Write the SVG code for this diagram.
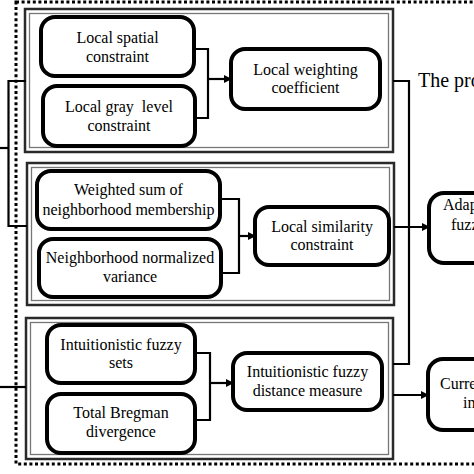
<svg xmlns="http://www.w3.org/2000/svg" width="474" height="474" viewBox="0 0 474 474">
<defs>
<style>
.frame{fill:none;stroke:#000;stroke-width:3;stroke-dasharray:3 2.6}
.pout{fill:none;stroke:#2a2a2a;stroke-width:2.5}
.pin{fill:none;stroke:#777;stroke-width:1.3}
.node{fill:#fff;stroke:#000;stroke-width:4}
.t{font-family:"Liberation Serif","Times New Roman",serif;font-size:16px;fill:#000;text-anchor:middle}
.ts{font-family:"Liberation Serif","Times New Roman",serif;font-size:16px;fill:#000}
.line{fill:none;stroke:#000;stroke-width:2.2}
.arr{fill:none;stroke:#000;stroke-width:2.2;marker-end:url(#ah)}
</style>
<marker id="ah" markerWidth="8" markerHeight="8" refX="7" refY="4" orient="auto" markerUnits="userSpaceOnUse">
<path d="M0,0 L8,4 L0,8 Z" fill="#000"/>
</marker>
</defs>
<rect width="474" height="474" fill="#fff"/>
<rect id="outer-frame" class="frame" x="16" y="2" width="480" height="462"/>

<g id="panel1">
<rect class="pout" x="25" y="9" width="368" height="143"/>
<rect class="pin" x="29.5" y="13.5" width="359" height="134"/>
</g>
<g id="panel2">
<rect class="pout" x="27" y="163" width="367" height="142"/>
<rect class="pin" x="31.5" y="167.5" width="358" height="133"/>
</g>
<g id="panel3">
<rect class="pout" x="26" y="318" width="367" height="141"/>
<rect class="pin" x="30.5" y="322.5" width="358" height="132"/>
</g>

<g id="connectors">
<path class="line" d="M26,81 H8.5 V226 H27"/>
<path class="line" d="M0,148 H8.5"/>
<path class="line" d="M0,387 H26"/>
<path class="line" d="M194,49 H208 V118 H195"/>
<path class="arr" d="M208,79 H231"/>
<path class="line" d="M220,199 H239 V273 H221"/>
<path class="arr" d="M239,236 H255"/>
<path class="line" d="M195,353 H210 V420 H195"/>
<path class="arr" d="M210,383 H233"/>
<path class="line" d="M393,81 H409 V364 H393"/>
<path class="arr" d="M394,227 H429"/>
<path class="arr" d="M393,395 H428"/>
</g>

<g id="n-local-spatial">
<rect class="node" x="41" y="17" width="153" height="59" rx="14"/>
<text class="t" x="117.5" y="43">Local spatial</text>
<text class="t" x="117.5" y="62">constraint</text>
</g>
<g id="n-local-gray">
<rect class="node" x="43" y="86" width="152" height="60" rx="14"/>
<text class="t" x="119" y="112" xml:space="preserve">Local gray  level</text>
<text class="t" x="119" y="131">constraint</text>
</g>
<g id="n-local-weighting">
<rect class="node" x="231" y="49" width="149" height="60" rx="14"/>
<text class="t" x="305.5" y="75">Local weighting</text>
<text class="t" x="305.5" y="93">coefficient</text>
</g>

<g id="n-weighted-sum">
<rect class="node" x="37" y="171" width="183" height="58" rx="14"/>
<text class="t" x="128.5" y="195">Weighted sum of</text>
<text class="t" x="128.5" y="215">neighborhood membership</text>
</g>
<g id="n-neigh-variance">
<rect class="node" x="39" y="239" width="182" height="58" rx="14"/>
<text class="t" x="130" y="263">Neighborhood normalized</text>
<text class="t" x="130" y="282">variance</text>
</g>
<g id="n-local-similarity">
<rect class="node" x="255" y="207" width="134" height="58" rx="14"/>
<text class="t" x="322" y="232">Local similarity</text>
<text class="t" x="322" y="250">constraint</text>
</g>

<g id="n-ifs">
<rect class="node" x="47" y="325" width="148" height="58" rx="14"/>
<text class="t" x="121" y="350">Intuitionistic fuzzy</text>
<text class="t" x="121" y="368">sets</text>
</g>
<g id="n-bregman">
<rect class="node" x="47" y="394" width="148" height="59" rx="14"/>
<text class="t" x="121" y="418">Total Bregman</text>
<text class="t" x="121" y="437">divergence</text>
</g>
<g id="n-if-distance">
<rect class="node" x="233" y="353" width="149" height="57" rx="14"/>
<text class="t" x="307.5" y="377">Intuitionistic fuzzy</text>
<text class="t" x="307.5" y="396">distance measure</text>
</g>

<g id="n-adaptive">
<rect class="node" x="429" y="193" width="90" height="70" rx="15"/>
<text class="ts" x="443" y="210">Adap</text>
<text class="ts" x="451" y="230">fuzz</text>
</g>
<g id="n-current">
<rect class="node" x="428" y="359" width="90" height="71" rx="15"/>
<text class="ts" x="440" y="389">Curre</text>
<text class="ts" x="463" y="408">im</text>
</g>

<g id="label-proposed">
<text class="ts" x="418" y="87" style="font-size:20px">The pro</text>
</g>
</svg>
